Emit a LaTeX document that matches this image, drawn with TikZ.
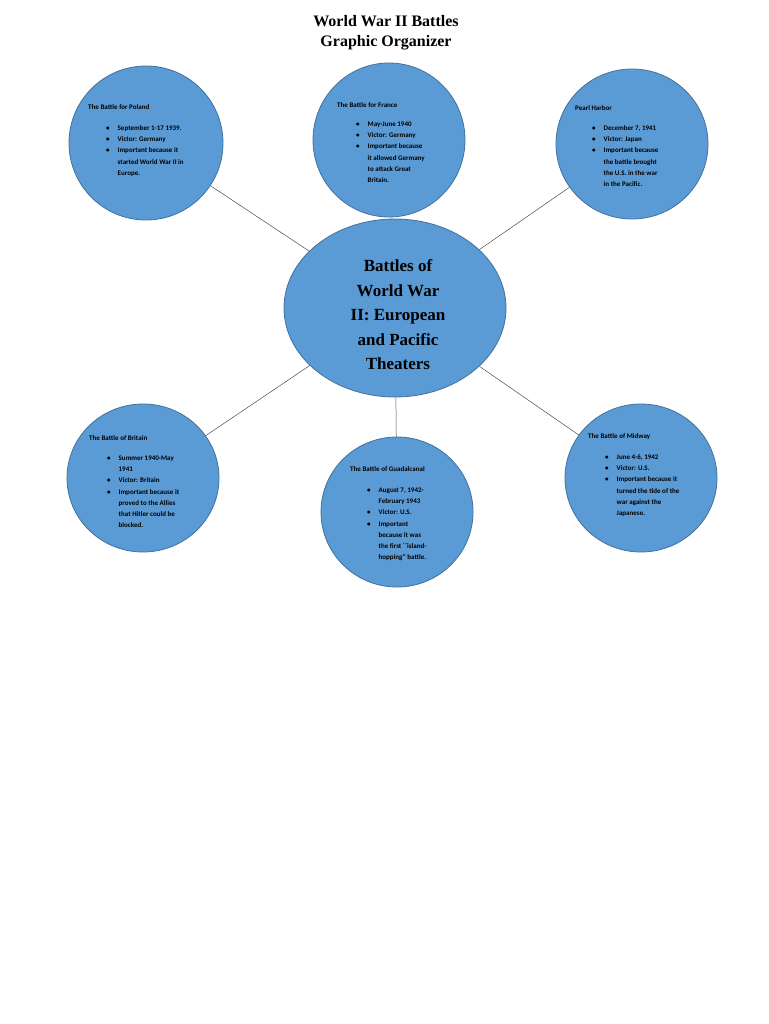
\documentclass[tikz,border=0pt]{standalone}
\usepackage{fontspec}
\setmainfont{Liberation Serif}
\newfontfamily\calfont{Carlito}
\usetikzlibrary{shapes.geometric}
\newcommand\blist[1]{{\fontsize{7}{11.3}\calfont\bfseries\begin{tabular}{@{}l@{\hspace{8pt}}l@{}}#1\end{tabular}}}
\newcommand\bi{\textbullet}
\begin{document}
\begin{tikzpicture}[x=1pt,y=-1pt,
  bub/.style={ellipse,draw=bubline,fill=bubfill,line width=0.8pt,inner sep=0pt},
  head/.style={anchor=west,font=\fontsize{7}{9}\calfont\bfseries,inner sep=0pt},
  lst/.style={anchor=north west,inner sep=0pt},
  link/.style={draw=black!70,line width=0.5pt}]
\definecolor{bubfill}{HTML}{5B9BD5}
\definecolor{bubline}{HTML}{41719C}
\useasboundingbox (0,0) rectangle (768,1024);
\node[font=\fontsize{16}{20}\selectfont\bfseries,align=center] (title) at (386,33) {World War II Battles\\Graphic Organizer};
\node[bub,minimum width=154,minimum height=154] (pol) at (146,143) {};
\node[bub,minimum width=152,minimum height=154] (fra) at (389,140) {};
\node[bub,minimum width=152,minimum height=150] (pea) at (632,144) {};
\node[bub,minimum width=222,minimum height=178] (c) at (395,308) {};
\node[bub,minimum width=152,minimum height=148] (bri) at (143,478) {};
\node[bub,minimum width=152,minimum height=150] (gua) at (397,512) {};
\node[bub,minimum width=152,minimum height=148] (mid) at (641,478) {};
\draw[link] (pol) -- (c); \draw[link] (fra) -- (c); \draw[link] (pea) -- (c);
\draw[link] (bri) -- (c); \draw[link] (gua) -- (c); \draw[link] (mid) -- (c);
\node[font=\fontsize{17}{24.5}\selectfont\bfseries,align=center] (ct) at (398,315) {Battles of\\World War\\II: European\\and Pacific\\Theaters};
% Poland
\node[head] (h1) at (88,107) {The Battle for Poland};
\node[lst] (l1) at (106,122) {\blist{\bi & September 1-17 1939.\\ \bi & Victor: Germany\\ \bi & Important because it\\ & started World War II in\\ & Europe.}};
% France
\node[head] (h2) at (337,105) {The Battle for France};
\node[lst] (l2) at (356,118) {\blist{\bi & May-June 1940\\ \bi & Victor: Germany\\ \bi & Important because\\ & it allowed Germany\\ & to attack Great\\ & Britain.}};
% Pearl
\node[head] (h3) at (575,108) {Pearl Harbor};
\node[lst] (l3) at (592,122) {\blist{\bi & December 7, 1941\\ \bi & Victor: Japan\\ \bi & Important because\\ & the battle brought\\ & the U.S. in the war\\ & in the Pacific.}};
% Britain
\node[head] (h4) at (89,438) {The Battle of Britain};
\node[lst] (l4) at (107,452) {\blist{\bi & Summer 1940-May\\ & 1941\\ \bi & Victor: Britain\\ \bi & Important because it\\ & proved to the Allies\\ & that Hitler could be\\ & blocked.}};
% Guadalcanal
\node[head] (h5) at (350,469) {The Battle of Guadalcanal};
\node[lst] (l5) at (367,484) {\blist{\bi & August 7, 1942-\\ & February 1943\\ \bi & Victor: U.S.\\ \bi & Important\\ & because it was\\ & the first ``island-\\ & hopping'' battle.}};
% Midway
\node[head] (h6) at (588,437) {The Battle of Midway};
\node[lst] (l6) at (605,451) {\blist{\bi & June 4-6, 1942\\ \bi & Victor: U.S.\\ \bi & Important because it\\ & turned the tide of the\\ & war against the\\ & Japanese.}};
\end{tikzpicture}
\end{document}
